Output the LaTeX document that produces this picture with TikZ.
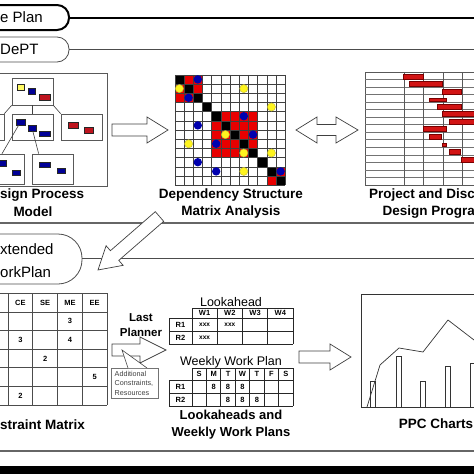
\documentclass[tikz,border=0pt]{standalone}
\usepackage{fontspec}
\setmainfont{Liberation Sans}
\usetikzlibrary{positioning, calc}
\definecolor{dsmRed}{RGB}{232,0,0}
\definecolor{dsmBlue}{RGB}{0,0,175}
\definecolor{dsmYellow}{RGB}{255,245,30}
\definecolor{chipBlue}{RGB}{0,0,150}
\definecolor{chipRed}{RGB}{190,20,30}
\definecolor{chipYellow}{RGB}{255,250,100}
\definecolor{barRed}{RGB}{210,20,20}
\definecolor{barEdge}{RGB}{120,0,0}

\begin{document}
\begin{tikzpicture}
	[
	x=1pt, y=-1pt,
	sectionRule/.style={draw=black!60, line width=1.3pt},
	thinRule/.style={draw=black!70, line width=0.8pt},
	tabText/.style={anchor=west, inner sep=0pt, align=left, font=\fontsize{15}{23}\selectfont},
	panelLabel/.style={inner sep=0pt, align=center, font=\bfseries\fontsize{13.5}{17}\selectfont},
	taskBox/.style={draw=black!65, fill=white, inner sep=0pt, line width=0.7pt},
	taskLink/.style={draw=black!75, line width=0.6pt},
	chip/.style={draw=black!85, inner sep=0pt, line width=0.4pt},
	dsmGrid/.style={draw=black!75, line width=0.5pt},
	ganttLine/.style={draw=black!65, line width=0.7pt},
	ganttBar/.style={fill=barRed, draw=barEdge, line width=0.5pt},
	blockArrow/.style={draw=black!75, fill=white, line width=0.7pt, line join=miter},
	tableLine/.style={draw=black!70, line width=1pt},
	cellText/.style={inner sep=0pt, font=\bfseries\fontsize{7.5}{8}\selectfont},
	tableTitle/.style={inner sep=0pt, font=\fontsize{12.5}{14}\selectfont},
	noteBox/.style={draw=black!55, fill=white, align=left, text=black!75, text width=40pt, inner xsep=3.5pt, inner ysep=3pt, font=\fontsize{7.2}{9.5}\selectfont},
	chartLine/.style={draw=black!80, line width=0.7pt}
	]
	\useasboundingbox (0,0) rectangle (474,474);
	\clip (0,0) rectangle (474,474);
	\coordinate (rightEdge) at (474,0);

	% section tabs
	\draw[line width=2pt, rounded corners=12pt] (-30,5) rectangle (69,30);
	\node(planTab) [tabText] at (0,17.5) {e Plan};
	\coordinate (planTabEnd) at (69,17.5);
	\draw[line width=2pt] (planTabEnd) -- (planTabEnd -| rightEdge);

	\draw[thinRule, rounded corners=12pt] (-30,37) rectangle (69,62);
	\node(deptTab) [tabText] at (0,49.5) {DePT};
	\coordinate (deptTabEnd) at (69,49.5);
	\draw[thinRule] (deptTabEnd) -- (deptTabEnd -| rightEdge);

	% design process model
	\draw[taskBox] (-10,73) rectangle (107,186);
	\node(topTask) [taskBox, minimum width=41, minimum height=27] at (32.5,91.5) {};
	\node(midTask) [taskBox, minimum width=41, minimum height=26] at (32.5,127) {};
	\node(rightTask) [taskBox, minimum width=41, minimum height=26] at (81.5,127) {};
	\node(leftTask) [taskBox, minimum width=41, minimum height=26] at (-16.5,127) {};
	\node(lowLeftTask) [taskBox, minimum width=44, minimum height=30] at (2,169) {};
	\node(lowRightTask) [taskBox, minimum width=41, minimum height=30] at (52.5,169) {};

	\node(topYellow) [chip, fill=chipYellow, minimum width=7, minimum height=6] at (20.5,87) {};
	\node(topBlue) [chip, fill=chipBlue, minimum width=7, minimum height=6] at (31.5,91) {};
	\node(topRed) [chip, fill=chipRed, minimum width=11, minimum height=6] at (44.5,97) {};
	\node(midBlueA) [chip, fill=chipBlue, minimum width=9, minimum height=6] at (20.5,122) {};
	\node(midBlueB) [chip, fill=chipBlue, minimum width=8, minimum height=6] at (32,128) {};
	\node(midBlueC) [chip, fill=chipBlue, minimum width=11, minimum height=5.5] at (44.5,133.5) {};
	\node(rightRedA) [chip, fill=chipRed, minimum width=10, minimum height=6] at (73,125) {};
	\node(rightRedB) [chip, fill=chipRed, minimum width=9, minimum height=6] at (88.5,130) {};
	\node(lowLeftBlueA) [chip, fill=chipBlue, minimum width=9, minimum height=6] at (2,163) {};
	\node(lowLeftBlueB) [chip, fill=chipBlue, minimum width=8, minimum height=5.5] at (16,172.5) {};
	\node(lowRightBlueA) [chip, fill=chipBlue, minimum width=11, minimum height=5.5] at (44.5,164.5) {};
	\node(lowRightBlueB) [chip, fill=chipBlue, minimum width=8, minimum height=5.5] at (61,170.5) {};

	\draw[taskLink] (topTask) -- (midTask);
	\draw[taskLink] (topTask.south east) -- (rightTask.north west);
	\draw[taskLink] (leftTask.north east) -- (topTask.south west);
	\draw[taskLink] (midBlueA) -- (lowLeftTask.north);
	\draw[taskLink] (midBlueB) -- ($(lowRightTask.north west)+(7,0)$);

	% dependency structure matrix
	\node(dsm) [inner sep=0pt, minimum size=110.4] at (230.2,130.2) {};
	\begin{scope}[shift={(dsm.north west)}]
		\foreach \a/\b in {0/3, 4/9, 10/12}
			\fill[dsmRed] ({\a*9.2},{\a*9.2}) rectangle ({\b*9.2},{\b*9.2});
		\foreach \i in {0,...,11}
			\fill ({\i*9.2},{\i*9.2}) rectangle ++(9.2,9.2);
		\foreach \k in {0,...,12} {
			\draw[dsmGrid] ({\k*9.2},0) -- ({\k*9.2},110.4);
			\draw[dsmGrid] (0,{\k*9.2}) -- (110.4,{\k*9.2});
		}
		\foreach \row/\col in {0/2, 2/1, 4/7, 5/2, 6/8, 7/4, 9/2, 10/4, 10/11}
			\fill[dsmBlue] ({\col*9.2+4.6},{\row*9.2+4.6}) circle (4.2);
		\foreach \row/\col in {1/0, 1/7, 3/10, 6/5, 7/1, 8/7, 8/10, 10/7}
			\filldraw[fill=dsmYellow, draw=yellow!70!black, line width=0.4pt] ({\col*9.2+4.6},{\row*9.2+4.6}) circle (4.1);
	\end{scope}

	% programme chart
	\draw[ganttLine] (365,72) rectangle (500,185);
	\foreach \k in {1,...,14}
		\draw[ganttLine, draw=black!55] (365,{72+\k*7.533}) -- (500,{72+\k*7.533});
	\foreach \xv in {404,423.5,443,462.5}
		\draw[ganttLine] (\xv,72) -- (\xv,185);
	\foreach \row/\xa/\xb in {0/403/423, 1/409/442, 2/442/461, 4/437/461, 5/442/485, 6/449/485, 7/423/446, 8/429/441, 10/449/460, 11/461/485}
		\filldraw[ganttBar] (\xa,{72+\row*7.533+2}) rectangle (\xb,{72+\row*7.533+7});
	\foreach \row/\xa/\xb in {3/429/446, 9/442/446}
		\filldraw[ganttBar] (\xa,{72+\row*7.533+3.2}) rectangle (\xb,{72+\row*7.533+6.2});

	% block arrows, first row
	\draw[blockArrow] (112,124) -- (147,124) -- (147,117) -- (168,130) -- (147,143) -- (147,136) -- (112,136) -- cycle;
	\draw[blockArrow] (296,130) -- (317,117) -- (317,124.5) -- (336,124.5) -- (336,117) -- (358,130) -- (336,143) -- (336,135.5) -- (317,135.5) -- (317,143) -- cycle;

	\node(dpmLabelTop) [panelLabel, anchor=west] at (0,195) {sign Process};
	\node(dpmLabelBottom) [panelLabel] at (33,212) {Model};
	\node(dsmLabel) [panelLabel] at (231,203.5) {Dependency Structure\\Matrix Analysis};
	\node(programLabel) [panelLabel, align=right, anchor=east] at (475,203.5) {Project and Disc\\Design Progra};

	\draw[sectionRule] (0,223) -- (474,223);

	% extended workplan tab
	\draw[thinRule, rounded corners=24pt] (-40,234) rectangle (82,284);
	\node(workPlanTab) [tabText] at (0,260.5) {xtended\\orkPlan};
	\coordinate (workPlanTabEnd) at (82,258.5);
	\draw[thinRule] (workPlanTabEnd) -- (workPlanTabEnd -| rightEdge);

	\begin{scope}[shift={(159.5,216.5)}, rotate=221]
		\draw[blockArrow] (0,-6.4) -- (59.5,-6.4) -- (59.5,-13) -- (81.5,0) -- (59.5,13) -- (59.5,6.4) -- (0,6.4) -- cycle;
	\end{scope}

	% constraint matrix
	\foreach \yv in {293,312,330.6,349.2,367.8,386.4,405}
		\draw[tableLine] (-20,\yv) -- (107,\yv);
	\foreach \xv in {8,32.75,57.5,82.25,107}
		\draw[tableLine] (\xv,293) -- (\xv,405);
	\foreach \h [count=\i from 0] in {CE,SE,ME,EE}
		\node(head\h) [cellText] at ({20.4+\i*24.75},302.5) {\h};
	\foreach \row/\col/\v in {1/2/3, 2/0/3, 2/2/4, 3/1/2, 4/3/5, 5/0/2}
		\node(cell\row\col) [cellText] at ({20.4+\col*24.75},{312+(\row-0.5)*18.6}) {\v};
	\node(constraintLabel) [panelLabel, anchor=west] at (0,425) {straint Matrix};

	% last planner step
	\node(lastPlanner) [panelLabel, font=\bfseries\fontsize{11.5}{15}\selectfont] at (141,325.5) {Last\\Planner};
	\draw[blockArrow] (112,344) -- (140,344) -- (140,337) -- (166,350) -- (140,363) -- (140,356) -- (112,356) -- cycle;
	\node(extraBox) [noteBox, anchor=north west] at (111,368) {Additional\\Constraints,\\Resources};
	\coordinate (calloutTip) at (122,350);
	\filldraw[fill=white, draw=black!75, line width=0.6pt] ($(extraBox.north west)+(17,0)$) -- (calloutTip) -- ($(extraBox.north west)+(36,0)$);

	% lookahead table
	\node(lookaheadTitle) [tableTitle] at (231,302) {Lookahead};
	\draw[tableLine, draw=black!85, line width=0.9pt] (192,308) -- (293,308);
	\foreach \yv in {318,331,344}
		\draw[tableLine, draw=black!85, line width=0.9pt] (169,\yv) -- (293,\yv);
	\draw[tableLine, draw=black!85, line width=0.9pt] (169,318) -- (169,344);
	\foreach \xv in {192,217.25,242.5,267.75,293}
		\draw[tableLine, draw=black!85, line width=0.9pt] (\xv,308) -- (\xv,344);
	\foreach \w [count=\i from 0] in {W1,W2,W3,W4}
		\node(look\w) [cellText] at ({204.6+\i*25.25},313) {\w};
	\node(lookR1) [cellText] at (180.5,324.5) {R1};
	\node(lookR2) [cellText] at (180.5,337.5) {R2};
	\foreach \row/\col in {1/0, 1/1, 2/0}
		\node(lookCell\row\col) [cellText, font=\bfseries\fontsize{6.5}{7}\selectfont] at ({204.6+\col*25.25},{318+(\row-0.5)*13}) {xxx};

	% weekly work plan table
	\node(weeklyTitle) [tableTitle] at (231,362) {Weekly Work Plan};
	\draw[tableLine, draw=black!85, line width=0.9pt] (192,368) -- (293,368);
	\foreach \yv in {380,393,406}
		\draw[tableLine, draw=black!85, line width=0.9pt] (169,\yv) -- (293,\yv);
	\draw[tableLine, draw=black!85, line width=0.9pt] (169,380) -- (169,406);
	\foreach \k in {0,...,7}
		\draw[tableLine, draw=black!85, line width=0.9pt] ({192+\k*14.43},368) -- ({192+\k*14.43},406);
	\foreach \d [count=\i from 0] in {S,M,T,W,T,F,S}
		\node(day\i) [cellText] at ({199.2+\i*14.43},374) {\d};
	\node(weekR1) [cellText] at (180.5,386.5) {R1};
	\node(weekR2) [cellText] at (180.5,399.5) {R2};
	\foreach \row/\col in {1/1, 1/2, 1/3, 2/2, 2/3, 2/4}
		\node(weekCell\row\col) [cellText] at ({199.2+\col*14.43},{380+(\row-0.5)*13}) {8};
	\node(planLabel) [panelLabel, font=\bfseries\fontsize{13}{17}\selectfont] at (231,424.5) {Lookaheads and\\Weekly Work Plans};

	% ppc chart
	\draw[blockArrow] (299,351) -- (330,351) -- (330,344) -- (351,357) -- (330,370) -- (330,363) -- (299,363) -- cycle;
	\draw[chartLine] (490,294) -- (361,294) -- (361,407) -- (490,407);
	\foreach \xa/\yt in {370/381, 396/356, 420/381, 445/366, 470/363}
		\draw[chartLine] (\xa,407) rectangle ({\xa+5},\yt);
	\draw[chartLine] (367,407) -- (380,365) -- (399,348) -- (423,352) -- (448,320) -- (474,340) -- (490,352);
	\node(ppcLabel) [panelLabel] at (436,424) {PPC Charts};

	\draw[sectionRule] (0,451) -- (474,451);
	\fill (0,466) rectangle (474,474);
\end{tikzpicture}
\end{document}
